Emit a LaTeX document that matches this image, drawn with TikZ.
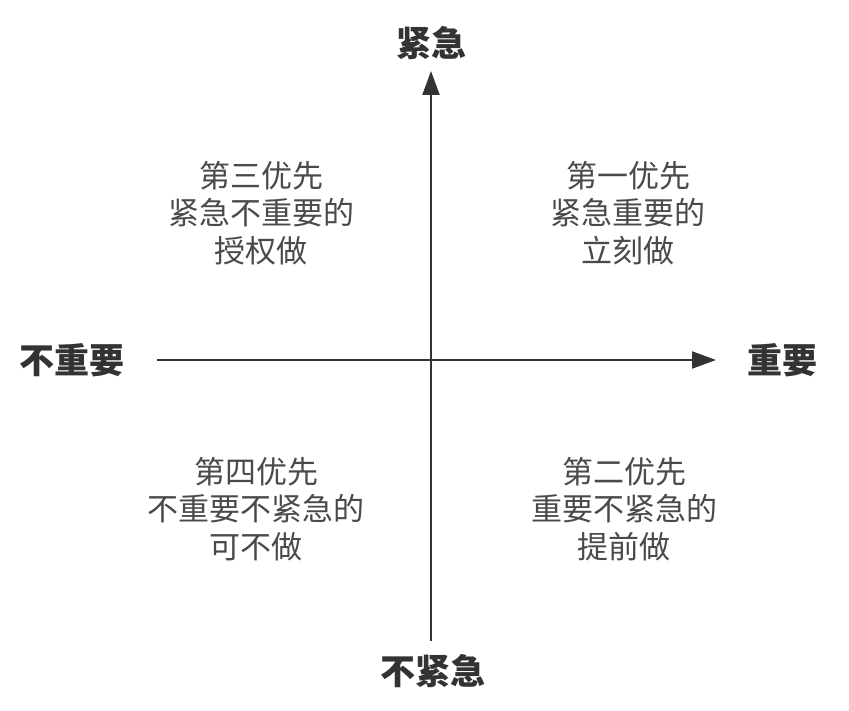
\documentclass[tikz,border=0pt]{standalone}
\usepackage{fontspec}
\newfontfamily\cjk{Noto Sans CJK SC}
\usetikzlibrary{arrows.meta}
\definecolor{axiscol}{HTML}{333333}
\definecolor{labcol}{HTML}{333333}
\definecolor{quadcol}{HTML}{4A4A4A}
\begin{document}
\begin{tikzpicture}[x=1pt,y=-1pt,
  axis/.style={draw=axiscol,line width=2.2pt,-{Triangle[length=24pt,width=17pt]}},
  axislab/.style={font=\cjk\bfseries\fontsize{35}{40}\selectfont,text=labcol,inner sep=0pt},
  quad/.style={font=\cjk\fontsize{31}{37.5}\selectfont,text=quadcol,align=center,inner sep=0pt}]
\useasboundingbox (0,0) rectangle (849,711);
\fill[white] (0,0) rectangle (849,711);
\coordinate (vbot) at (431,641);
\coordinate (vtop) at (431,71);
\coordinate (hleft) at (157,360);
\coordinate (hright) at (716,360);
\draw[axis] (vbot) -- (vtop);
\draw[axis] (hleft) -- (hright);
\node[axislab] (up) at (431,43) {紧急};
\node[axislab] (down) at (433,671) {不紧急};
\node[axislab] (left) at (72,360) {不重要};
\node[axislab] (right) at (782,360) {重要};
\node[quad] (q3) at (261,213) {第三优先\\紧急不重要的\\授权做};
\node[quad] (q1) at (628,213) {第一优先\\紧急重要的\\立刻做};
\node[quad] (q4) at (256,509) {第四优先\\不重要不紧急的\\可不做};
\node[quad] (q2) at (624,509) {第二优先\\重要不紧急的\\提前做};
\end{tikzpicture}
\end{document}
